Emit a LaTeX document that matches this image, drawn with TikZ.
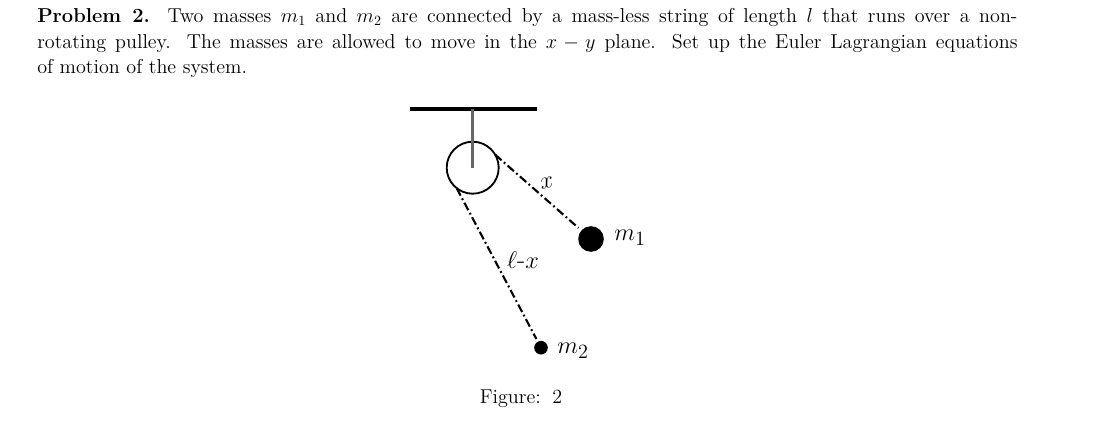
\documentclass[tikz,border=0pt]{standalone}
\tikzset{
  page text/.style={font=\fontsize{14.3}{18}\selectfont, inner sep=0pt},
  mass/.style={circle, fill=black, inner sep=0pt, outer sep=0pt},
  string/.style={line width=1.5pt, dash pattern=on 6pt off 2.2pt on 1.3pt off 2.2pt},
  hand/.style={font=\fontsize{19}{22}\selectfont, inner sep=0pt}
}
\begin{document}
\begin{tikzpicture}[x=0.025cm, y=-0.025cm]
      \useasboundingbox (0, 0) rectangle (1106, 426);

      \node[page text, anchor=north west, text width=24.5cm, align=justify] (problem) at (37, 8.5) {\textbf{Problem 2.} Two masses $m_1$ and $m_2$ are connected by a mass-less string of length $l$ that runs over a non-\linebreak rotating pulley. The masses are allowed to move in the $x-y$ plane. Set up the Euler Lagrangian equations\linebreak of motion of the system.};

      \coordinate (barleft) at (409.5, 109);
      \coordinate (barright) at (536.5, 109);
      \draw[line width=2.4pt] (barleft) -- (barright);

      \node[circle, draw, line width=1.3pt, minimum size=1.3cm, inner sep=0pt, outer sep=0pt] (pulley) at (472.7, 167.7) {};
      \coordinate (rodtop) at (472.7, 109);
      \draw[line width=2.4pt, gray!80!black] (rodtop) -- (pulley.center);

      \node[mass, minimum size=0.64cm] (massone) at (591, 239) {};
      \node[mass, minimum size=0.34cm] (masstwo) at (541, 347.7) {};

      \draw[string, shorten >=2.8pt] (pulley.30) -- (massone);
      \draw[string, shorten >=2.2pt] (pulley.232) -- (masstwo);

      \node[hand, rotate=12] (labelx) at (547, 183) {$x$};
      \node[hand] (labellx) at (523, 260) {$\ell$-$x$};
      \node[hand] (labelone) at (630, 238) {$m_{1}$};
      \node[hand] (labeltwo) at (573, 351) {$m_{2}$};

      \node[page text, anchor=base] (caption) at (521, 403) {Figure:\hspace{2pt} 2};
    \end{tikzpicture}
\end{document}
